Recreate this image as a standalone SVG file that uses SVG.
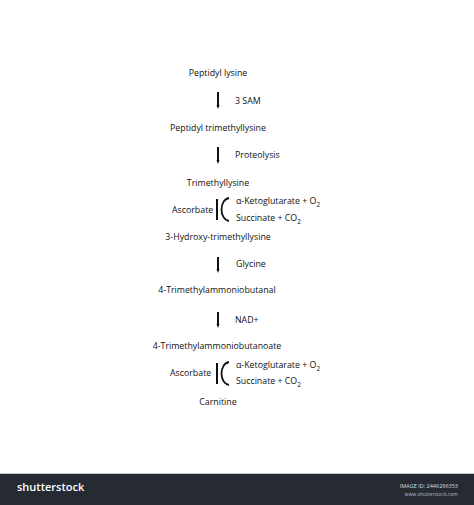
<svg xmlns="http://www.w3.org/2000/svg" width="474" height="505" viewBox="0 0 474 505">
<style>
text{font-family:"Open Sans","Liberation Sans",sans-serif;font-size:8.8px;fill:#111}
.c{text-anchor:middle}
.arr{stroke:#111;stroke-width:2;fill:none}
.br{stroke:#111;stroke-width:1.8;fill:none}
.ft{fill:#fff}
</style>
<defs>
<marker id="ah" markerWidth="4" markerHeight="4" refX="2" refY="2" orient="auto" markerUnits="userSpaceOnUse">
<path d="M0,0.5 L4,2 L0,3.5 Z" fill="#111"/>
</marker>
</defs>
<rect width="474" height="505" fill="#fff"/>
<g id="connectors">
<line class="arr" x1="218" y1="92" x2="218" y2="107" marker-end="url(#ah)"/>
<line class="arr" x1="218" y1="147" x2="218" y2="162" marker-end="url(#ah)"/>
<line class="arr" x1="218" y1="257" x2="218" y2="271" marker-end="url(#ah)"/>
<line class="arr" x1="218" y1="312" x2="218" y2="326" marker-end="url(#ah)"/>
<g id="bracket1">
<line class="arr" x1="217" y1="199" x2="217" y2="220"/>
<path class="br" d="M229,198 C219,200 219,219 229,221"/>
</g>
<g id="bracket2">
<line class="arr" x1="217" y1="363" x2="217" y2="384"/>
<path class="br" d="M229,362 C219,364 219,383 229,385"/>
</g>
</g>
<g id="n1"><text class="c" x="218" y="76">Peptidyl lysine</text></g>
<g id="l1"><text x="235" y="104">3 SAM</text></g>
<g id="n2"><text class="c" x="218" y="131">Peptidyl trimethyllysine</text></g>
<g id="l2"><text x="235" y="158">Proteolysis</text></g>
<g id="n3"><text class="c" x="218" y="186">Trimethyllysine</text></g>
<g id="l3">
<text x="172" y="213">Ascorbate</text>
<text x="236" y="204">α-Ketoglutarate + O<tspan font-size="6.5" dy="2.5">2</tspan></text>
<text x="236" y="221">Succinate + CO<tspan font-size="6.5" dy="2.5">2</tspan></text>
</g>
<g id="n4"><text class="c" x="218" y="240">3-Hydroxy-trimethyllysine</text></g>
<g id="l4"><text x="236" y="267">Glycine</text></g>
<g id="n5"><text class="c" x="217" y="293">4-Trimethylammoniobutanal</text></g>
<g id="l5"><text x="235" y="323">NAD+</text></g>
<g id="n6"><text class="c" x="217" y="349">4-Trimethylammoniobutanoate</text></g>
<g id="l6">
<text x="170" y="376">Ascorbate</text>
<text x="236" y="368">α-Ketoglutarate + O<tspan font-size="6.5" dy="2.5">2</tspan></text>
<text x="236" y="384">Succinate + CO<tspan font-size="6.5" dy="2.5">2</tspan></text>
</g>
<g id="n7"><text class="c" x="218" y="405">Carnitine</text></g>
<g id="footer">
<rect x="0" y="473" width="474" height="32" fill="#262a33"/>
<rect x="0" y="473" width="474" height="1" fill="#c8c8c8"/>
<text class="ft" x="17" y="491" style="font-size:11px;font-weight:600">shutterstock</text>
<text class="ft" x="458" y="488" style="font-size:5.5px;text-anchor:end;fill:#ddd">IMAGE ID: 2446296353</text>
<text class="ft" x="458" y="496" style="font-size:5px;text-anchor:end;fill:#bbb">www.shutterstock.com</text>
</g>
</svg>
